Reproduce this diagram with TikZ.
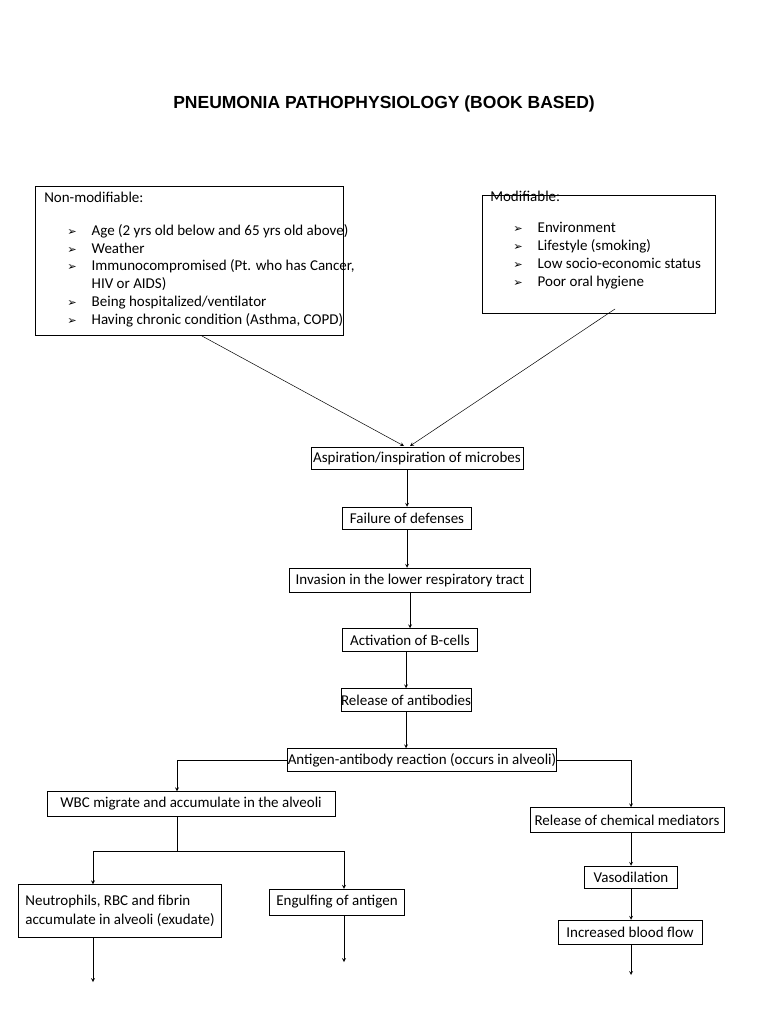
\documentclass[tikz,border=0pt]{standalone}
\usepackage{fontspec}
\setmainfont{Carlito}
\newfontfamily\titlefont{Liberation Sans}
\newfontfamily\bulletfont{DejaVu Sans}
\usetikzlibrary{positioning}
\newcommand{\arw}{{\bulletfont\fontsize{9}{10}\selectfont ➢}\hspace{12pt}}
\begin{document}
\begin{tikzpicture}[x=0.02811cm,y=-0.02811cm,thin,font=\fontsize{12}{15.5}\selectfont,
  stage/.style={draw,inner sep=0pt},
  arr/.style={->,>=stealth}]
\useasboundingbox (0,0) rectangle (768,1024);
\node[font=\titlefont\bfseries\fontsize{14}{16}\selectfont] (title) at (384,104) {PNEUMONIA PATHOPHYSIOLOGY (BOOK BASED)};
%risk factor boxes
\draw (35,186) rectangle (343,335);
\node[anchor=north west,align=left,inner sep=0pt] (nm) at (44,192) {Non-modifiable:};
\node[anchor=north west,align=left,inner sep=0pt,font=\fontsize{12}{14.3}\selectfont] (nml) at (67,224) {\arw Age (2 yrs old below and 65 yrs old above)\\
\arw Weather\\
\arw Immunocompromised (Pt. who has Cancer,\\ \hphantom{\arw}HIV or AIDS)\\
\arw Being hospitalized/ventilator\\
\arw Having chronic condition (Asthma, COPD)};
\draw (482,195) rectangle (715,313);
\node[anchor=north west,align=left,inner sep=0pt] (mo) at (490,191) {Modifiable:};
\node[anchor=north west,align=left,inner sep=0pt,font=\fontsize{12}{14.3}\selectfont] (mol) at (513,222) {\arw Environment\\
\arw Lifestyle (smoking)\\
\arw Low socio-economic status\\
\arw Poor oral hygiene};
\coordinate (nmb) at (202,336);
\coordinate (mob) at (615,309);
%main chain
\node[stage,minimum width=212*0.02811cm,minimum height=22*0.02811cm] (asp) at (417,458) {Aspiration/inspiration of microbes};
\node[stage,minimum width=129*0.02811cm,minimum height=22*0.02811cm] (fail) at (407,518) {Failure of defenses};
\node[stage,minimum width=241*0.02811cm,minimum height=24*0.02811cm] (inv) at (410,580) {Invasion in the lower respiratory tract};
\node[stage,minimum width=135*0.02811cm,minimum height=23*0.02811cm] (act) at (410,640) {Activation of B-cells};
\node[stage,minimum width=127*0.02811cm,minimum height=23*0.02811cm] (rel) at (406,700) {Release of antibodies};
\node[stage,minimum width=269*0.02811cm,minimum height=23*0.02811cm] (ag) at (422,760) {Antigen-antibody reaction (occurs in alveoli)};
\node[stage,minimum width=288*0.02811cm,minimum height=25*0.02811cm] (wbc) at (191,804) {WBC migrate and accumulate in the alveoli};
\node[stage,minimum width=194*0.02811cm,minimum height=25*0.02811cm] (chem) at (627,820) {Release of chemical mediators};
\node[stage,minimum width=203*0.02811cm,minimum height=53*0.02811cm,align=left] (neu) at (120,911) {Neutrophils, RBC and fibrin\\accumulate in alveoli (exudate)};
\node[stage,minimum width=135*0.02811cm,minimum height=26*0.02811cm] (eng) at (337,902) {Engulfing of antigen};
\node[stage,minimum width=93*0.02811cm,minimum height=22*0.02811cm] (vaso) at (631,877) {Vasodilation};
\node[stage,minimum width=144*0.02811cm,minimum height=24*0.02811cm] (blood) at (630,932) {Increased blood flow};
\coordinate (neuo) at (93,982);
\coordinate (engo) at (344,962);
\coordinate (bloodo) at (631,975);
%connectors
\draw[arr] (nmb) -- (404,446);
\draw[arr] (mob) -- (410,446);
\draw[arr] (asp.south -| fail) -- (fail.north);
\draw[arr] (fail) -- (fail|-inv.north);
\draw[arr] (inv.south -| act) -- (act.north);
\draw[arr] (act.south -| rel) -- (rel.north);
\draw[arr] (rel) -- (rel|-ag.north);
\draw[arr] (ag.west) -| (wbc.north -| 177,0);
\draw[arr] (ag.east) -| (chem.north -| 631,0);
\draw (wbc.south -| 177,0) -- (177,851);
\draw[arr] (93,851) -- (neu.north -| 93,0);
\draw[arr] (93,851) -- (344,851) -- (eng.north -| 344,0);
\draw[arr] (chem.south -| vaso) -- (vaso.north);
\draw[arr] (vaso) -- (vaso|-blood.north);
\draw[arr] (neu.south -| neuo) -- (neuo);
\draw[arr] (eng.south -| engo) -- (engo);
\draw[arr] (blood.south -| bloodo) -- (bloodo);
\end{tikzpicture}
\end{document}
